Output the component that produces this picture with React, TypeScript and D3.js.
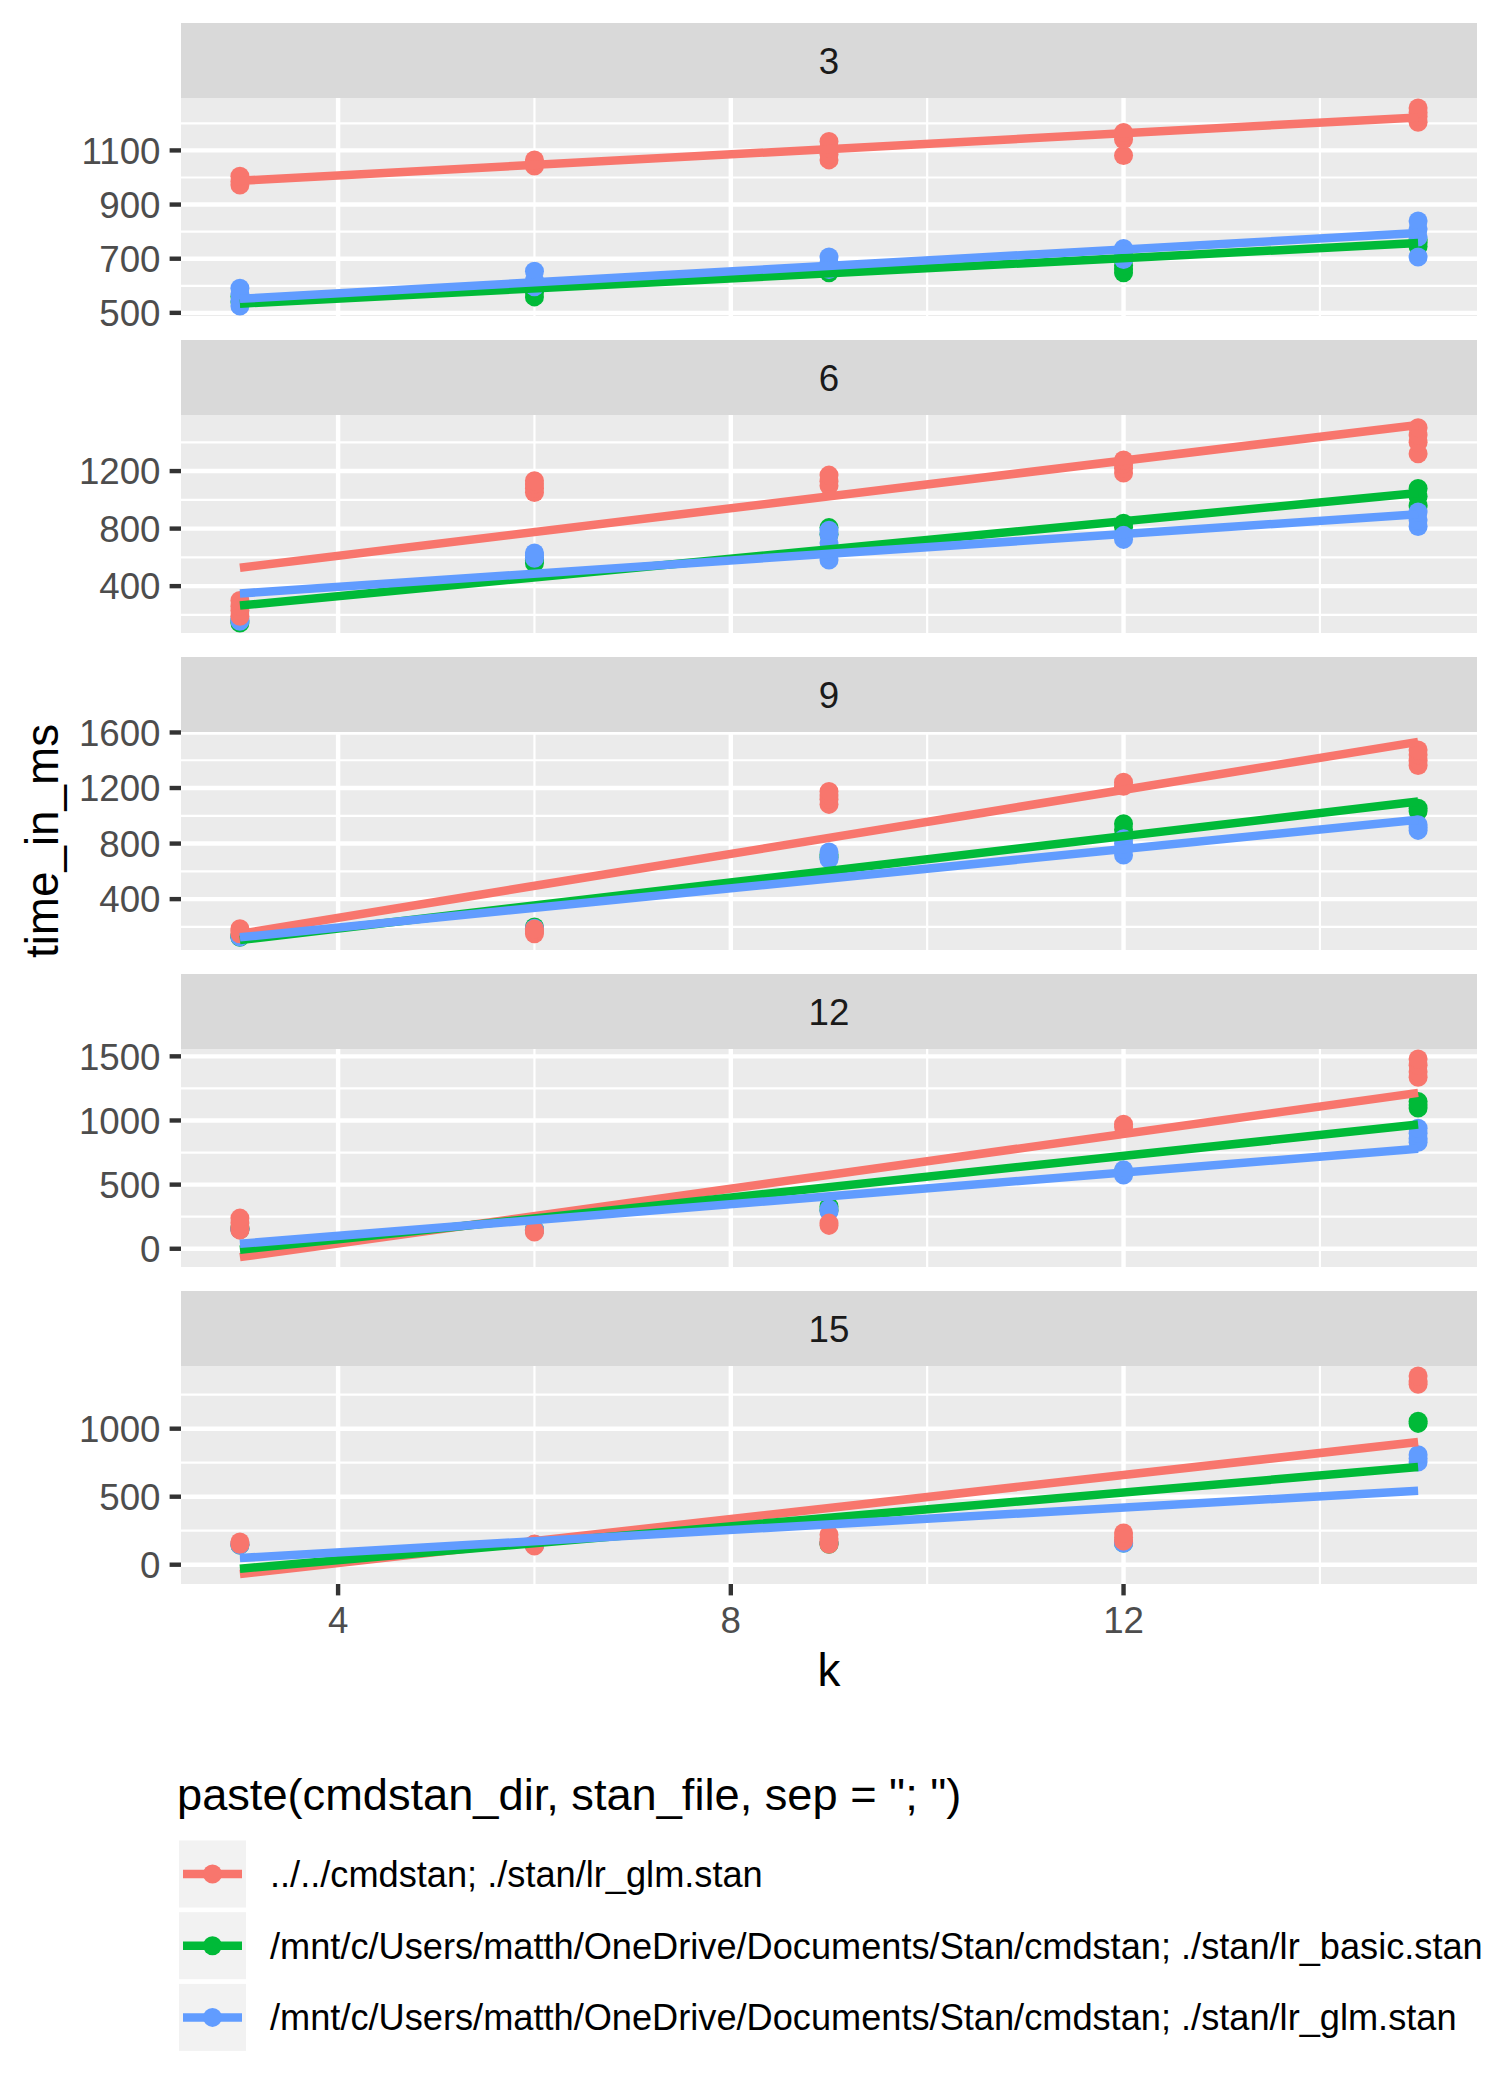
import React, { useEffect, useRef } from "react";
import * as d3 from "d3";

// k on the x axis, one facet per n (strip label)
const kValues = [3, 6, 9, 12, 15];
const facetLabels = ["3", "6", "9", "12", "15"];

const seriesLabels = [
  "../../cmdstan; ./stan/lr_glm.stan",
  "/mnt/c/Users/matth/OneDrive/Documents/Stan/cmdstan; ./stan/lr_basic.stan",
  "/mnt/c/Users/matth/OneDrive/Documents/Stan/cmdstan; ./stan/lr_glm.stan",
];
const seriesColors = ["#F8766D", "#00BA38", "#619CFF"];

// time_in_ms runs, [facet][k index][run]
const localGlmPoints = [
  [[972, 985, 1005], [1042, 1055, 1065], [1065, 1085, 1110, 1133], [1081, 1140, 1155, 1166], [1204, 1225, 1240, 1257]],
  [[190, 230, 260, 300], [1051, 1080, 1110, 1133], [1098, 1130, 1172], [1186, 1220, 1250, 1277], [1321, 1400, 1450, 1502]],
  [[150, 170, 187], [150, 170, 185], [1082, 1120, 1150, 1175], [1213, 1242], [1362, 1400, 1440, 1474]],
  [[145, 170, 200, 239], [130, 140], [182, 200], [950, 970], [1337, 1380, 1430, 1480]],
  [[150, 167], [137, 152], [150, 170, 190, 220], [174, 200, 233], [1326, 1350, 1388]],
];
const basicPoints = [
  [[540, 560], [559, 575, 590], [648, 665], [648, 662, 675], [745, 760, 770]],
  [[143, 160], [560, 580], [760, 807], [810, 837], [960, 1023, 1079]],
  [[125, 132], [185, 199], [700, 720], [855, 900, 943], [1034, 1055]],
  [[150, 160], [140, 150], [300, 330], [590, 600], [1098, 1120, 1147]],
  [[145], [145], [150, 160], [160], [1039, 1054]],
];
const remoteGlmPoints = [
  [[525, 545, 570, 591], [596, 620, 654], [660, 685, 706], [697, 720, 738], [706, 780, 810, 839]],
  [[155, 175], [593, 615, 630], [581, 640, 700, 760, 788], [725, 753], [814, 860, 916]],
  [[128, 135], [180, 190], [687, 710, 740], [718, 760, 800, 835], [895, 915, 936]],
  [[150, 155], [145, 150], [290, 310], [574, 600, 615], [830, 860, 900, 940]],
  [[145, 150], [145, 150], [160], [157, 165], [755, 780, 809]],
];

// lm fit: value at k=3 and at k=15, per facet
const localGlmFit = [[988, 1222], [528, 1521], [150, 1532], [-65, 1215], [-69, 902]];
const basicFit = [[534, 758], [265, 1047], [105, 1103], [-8, 968], [-29, 718]];
const remoteGlmFit = [[552, 795], [349, 900], [125, 972], [39, 779], [49, 544]];

const yTicks = [
  [500, 700, 900, 1100],
  [400, 800, 1200],
  [400, 800, 1200, 1600],
  [0, 500, 1000, 1500],
  [0, 500, 1000],
];
const xTicks = [4, 8, 12];

const allPoints = [localGlmPoints, basicPoints, remoteGlmPoints];
const allFits = [localGlmFit, basicFit, remoteGlmFit];

const App = () => {
  const svgRef = useRef<SVGSVGElement | null>(null);

  useEffect(() => {
    const svg = d3.select(svgRef.current);
    svg.selectAll("*").remove();

    const width = 1500;
    const height = 2100;
    const font = "'Liberation Sans', Arial, Helvetica, sans-serif";
    const left = 181;
    const right = 1477;
    const stripH = 75;
    const panelH = 218;
    const period = 317;
    const top0 = 23;
    const majorW = 4.4;
    const minorW = 2.2;
    const tickLen = 11.4;
    const smallText = 36.7;
    const bigText = 45.8;
    // Liberation runs a touch wider than the original's font, so the long legend lines are eased
    const legendText = 36.2;
    const legendTitle = 45.2;

    svg.attr("width", width).attr("height", height);
    svg.append("rect").attr("width", width).attr("height", height).attr("fill", "#fff");

    const x = d3.scaleLinear().domain([2.4, 15.6]).range([left, right]);
    const xMinor = [2, 6, 10, 14].filter((v) => v > 2.4 && v < 15.6);

    facetLabels.forEach((label, fi) => {
      const stripTop = top0 + fi * period;
      const panelTop = stripTop + stripH;
      const panelBottom = panelTop + panelH;

      // y domain from everything drawn in this facet, with ggplot's 5% padding
      const vals: number[] = [];
      allPoints.forEach((s) => s[fi].forEach((runs) => vals.push(...runs)));
      allFits.forEach((s) => vals.push(...s[fi]));
      const [lo, hi] = d3.extent(vals) as [number, number];
      const pad = (hi - lo) * 0.05;
      const y = d3.scaleLinear().domain([lo - pad, hi + pad]).range([panelBottom, panelTop]);

      const g = svg.append("g");

      // strip
      g.append("rect")
        .attr("x", left).attr("y", stripTop)
        .attr("width", right - left).attr("height", stripH)
        .attr("fill", "#D9D9D9");
      g.append("text")
        .attr("x", (left + right) / 2).attr("y", stripTop + stripH / 2)
        .attr("dy", "0.36em")
        .attr("text-anchor", "middle")
        .attr("font-family", font).attr("font-size", smallText)
        .attr("fill", "#1A1A1A")
        .text(label);

      // panel background
      g.append("rect")
        .attr("x", left).attr("y", panelTop)
        .attr("width", right - left).attr("height", panelH)
        .attr("fill", "#EBEBEB");

      const clipId = `clip-${fi}`;
      svg.append("clipPath").attr("id", clipId)
        .append("rect")
        .attr("x", left).attr("y", panelTop)
        .attr("width", right - left).attr("height", panelH);

      const panel = g.append("g").attr("clip-path", `url(#${clipId})`);

      // grid
      const ticks = yTicks[fi];
      const step = ticks[1] - ticks[0];
      const [d0, d1] = y.domain();
      const yMinor = [...ticks.map((t) => t - step / 2), ticks[ticks.length - 1] + step / 2]
        .filter((v) => v > d0 && v < d1);

      yMinor.forEach((v) => {
        panel.append("line")
          .attr("x1", left).attr("x2", right)
          .attr("y1", y(v)).attr("y2", y(v))
          .attr("stroke", "#fff").attr("stroke-width", minorW);
      });
      xMinor.forEach((v) => {
        panel.append("line")
          .attr("x1", x(v)).attr("x2", x(v))
          .attr("y1", panelTop).attr("y2", panelBottom)
          .attr("stroke", "#fff").attr("stroke-width", minorW);
      });
      ticks.forEach((v) => {
        panel.append("line")
          .attr("x1", left).attr("x2", right)
          .attr("y1", y(v)).attr("y2", y(v))
          .attr("stroke", "#fff").attr("stroke-width", majorW);
      });
      xTicks.forEach((v) => {
        panel.append("line")
          .attr("x1", x(v)).attr("x2", x(v))
          .attr("y1", panelTop).attr("y2", panelBottom)
          .attr("stroke", "#fff").attr("stroke-width", majorW);
      });

      // points: drawn in data order (lr_basic, remote glm, local glm)
      [1, 2, 0].forEach((si) => {
        allPoints[si][fi].forEach((runs, ki) => {
          runs.forEach((v) => {
            panel.append("circle")
              .attr("cx", x(kValues[ki])).attr("cy", y(v))
              .attr("r", 9.5)
              .attr("fill", seriesColors[si]);
          });
        });
      });

      // smooth lines
      const line = d3.line<[number, number]>()
        .x((d) => x(d[0]))
        .y((d) => y(d[1]));
      allFits.forEach((fits, si) => {
        const [a, b] = fits[fi];
        panel.append("path")
          .attr("d", line([[kValues[0], a], [kValues[kValues.length - 1], b]]))
          .attr("fill", "none")
          .attr("stroke", seriesColors[si])
          .attr("stroke-width", 8.5);
      });

      // y axis
      ticks.forEach((v) => {
        g.append("line")
          .attr("x1", left - tickLen).attr("x2", left)
          .attr("y1", y(v)).attr("y2", y(v))
          .attr("stroke", "#333333").attr("stroke-width", majorW);
        g.append("text")
          .attr("x", left - tickLen - 9.1).attr("y", y(v))
          .attr("dy", "0.36em")
          .attr("text-anchor", "end")
          .attr("font-family", font).attr("font-size", smallText)
          .attr("fill", "#4D4D4D")
          .text(String(v));
      });

      // x axis only under the last facet
      if (fi === facetLabels.length - 1) {
        xTicks.forEach((v) => {
          g.append("line")
            .attr("x1", x(v)).attr("x2", x(v))
            .attr("y1", panelBottom).attr("y2", panelBottom + tickLen)
            .attr("stroke", "#333333").attr("stroke-width", majorW);
          g.append("text")
            .attr("x", x(v)).attr("y", panelBottom + 49)
            .attr("text-anchor", "middle")
            .attr("font-family", font).attr("font-size", smallText)
            .attr("fill", "#4D4D4D")
            .text(String(v));
        });
      }
    });

    // axis titles
    const lastBottom = top0 + 4 * period + stripH + panelH;
    svg.append("text")
      .attr("x", (left + right) / 2).attr("y", 1686)
      .attr("text-anchor", "middle")
      .attr("font-family", font).attr("font-size", bigText)
      .attr("fill", "#000")
      .text("k");
    svg.append("text")
      .attr("transform", `translate(58, ${(top0 + stripH + lastBottom) / 2}) rotate(-90)`)
      .attr("text-anchor", "middle")
      .attr("font-family", font).attr("font-size", bigText)
      .attr("fill", "#000")
      .text("time_in_ms");

    // legend
    const legendLeft = 179;
    svg.append("text")
      .attr("x", legendLeft - 2).attr("y", 1810)
      .attr("font-family", font).attr("font-size", legendTitle)
      .attr("fill", "#000")
      .text('paste(cmdstan_dir, stan_file, sep = "; ")');

    const keySize = 67;
    seriesLabels.forEach((lab, i) => {
      const cy = 1874 + i * 71.7;
      const key = svg.append("g");
      key.append("rect")
        .attr("x", legendLeft).attr("y", cy - keySize / 2)
        .attr("width", keySize).attr("height", keySize)
        .attr("fill", "#F2F2F2");
      key.append("line")
        .attr("x1", legendLeft + 4).attr("x2", legendLeft + keySize - 4)
        .attr("y1", cy).attr("y2", cy)
        .attr("stroke", seriesColors[i]).attr("stroke-width", 8.5);
      key.append("circle")
        .attr("cx", legendLeft + keySize / 2).attr("cy", cy)
        .attr("r", 9.5)
        .attr("fill", seriesColors[i]);
      key.append("text")
        .attr("x", 270).attr("y", cy)
        .attr("dy", "0.36em")
        .attr("font-family", font).attr("font-size", legendText)
        .attr("fill", "#000")
        .text(lab);
    });
  }, []);

  return (
    <svg
      ref={svgRef}
      style={{ position: "absolute", left: 0, top: 0, display: "block" }}
    ></svg>
  );
};

export default App;
